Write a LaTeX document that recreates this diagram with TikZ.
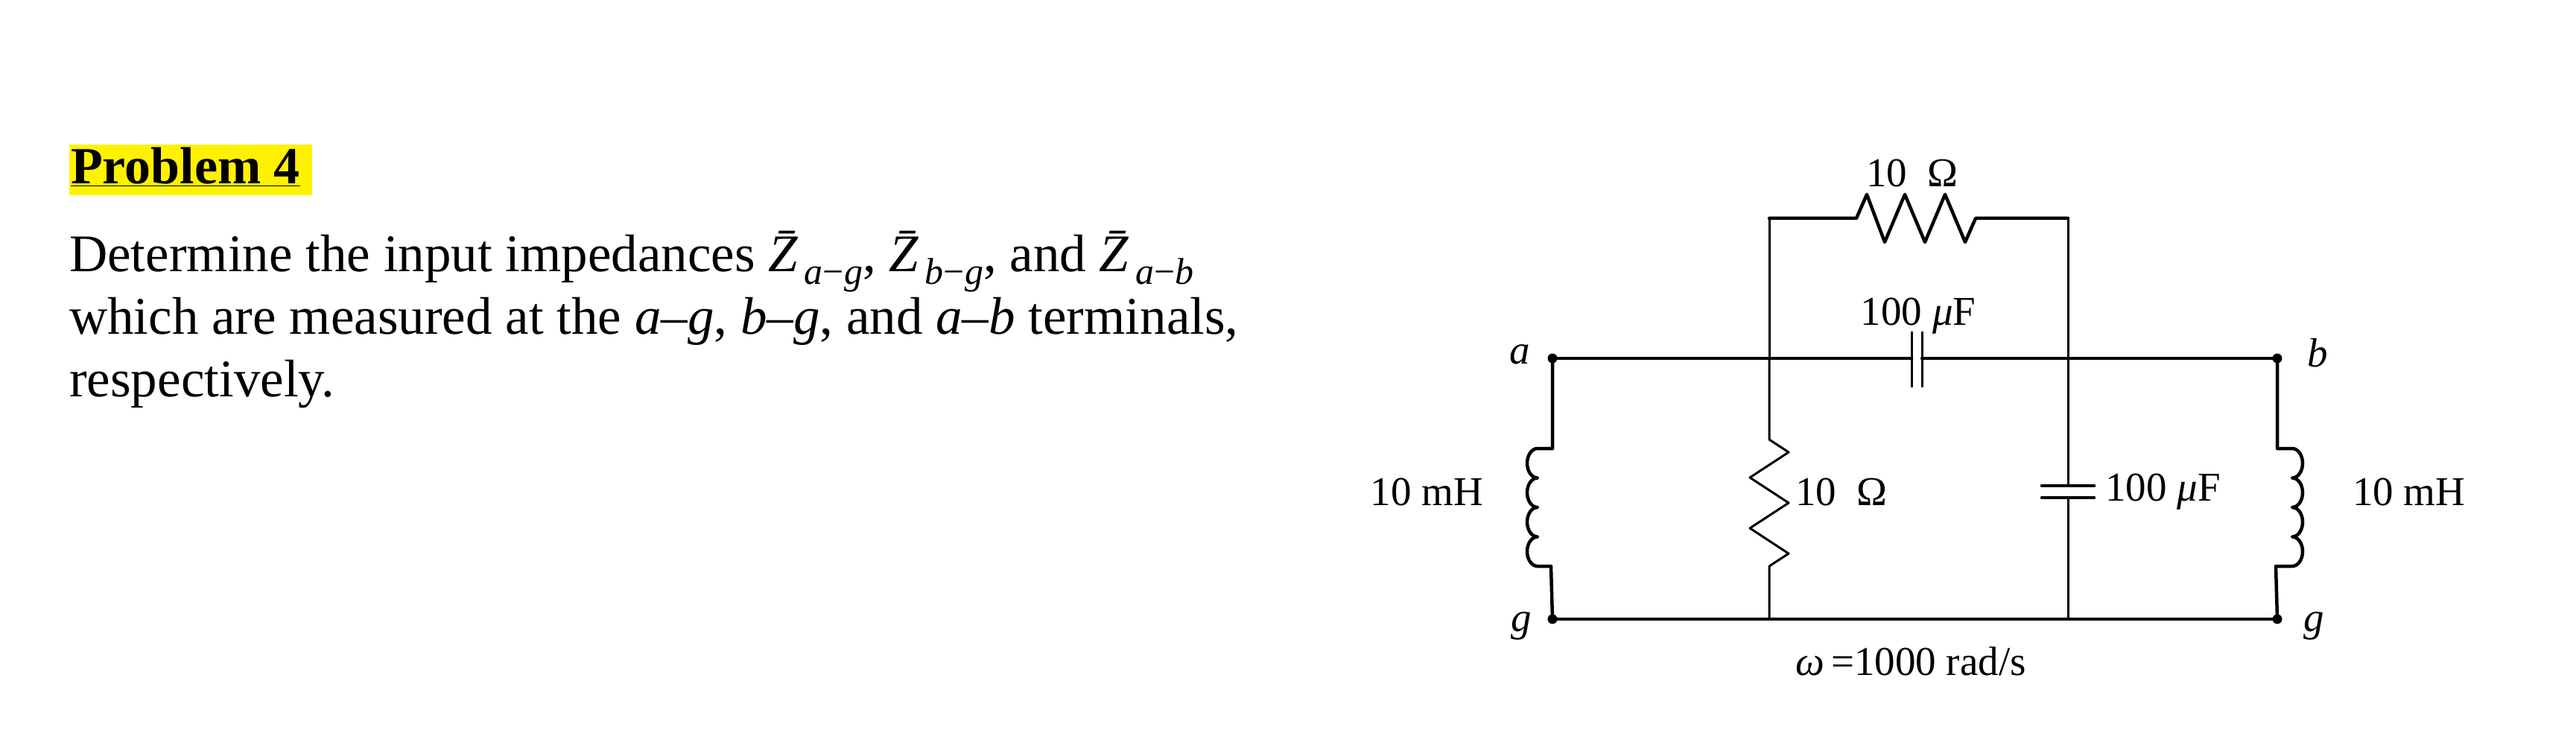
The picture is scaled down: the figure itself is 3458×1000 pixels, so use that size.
\documentclass[tikz,border=0pt]{standalone}
\usepackage{fontspec}
\setmainfont{Liberation Serif}
\begin{document}
\begin{tikzpicture}[x=1pt,y=-1pt,
  wire/.style={line width=4.5pt,line cap=round,line join=round},
  thin/.style={line width=3pt,line join=round},
  lbl/.style={font=\fontsize{55}{60}\selectfont,inner sep=0pt},
  dotc/.style={circle,fill=black,inner sep=0pt,minimum size=13pt}]
\newcommand{\zsub}[2]{\textit{\={Z}}\kern-0.12em\raisebox{-0.25em}{\fontsize{50}{50}\selectfont\textit{#1}−\textit{#2}}}
\useasboundingbox (0,0) rectangle (3458,1000);
% text
\fill[yellow] (93,194) rectangle (419,262);
\node[anchor=base west,inner sep=0pt,font=\fontsize{70}{84}\selectfont\bfseries] (title) at (95,247) {\underline{Problem 4}};
\node[anchor=base west,inner sep=0pt,font=\fontsize{71}{84}\selectfont] (l1) at (93,364) {Determine the input impedances \zsub{a}{g}, \zsub{b}{g}, and \zsub{a}{b}};
\node[anchor=base west,inner sep=0pt,font=\fontsize{71}{84}\selectfont] (l2) at (93,448) {which are measured at the \textit{a}–\textit{g}, \textit{b}–\textit{g}, and \textit{a}–\textit{b} terminals,};
\node[anchor=base west,inner sep=0pt,font=\fontsize{71}{84}\selectfont] (l3) at (93,532) {respectively.};
% coordinates
\coordinate (a) at (2084,481);
\coordinate (b) at (3057,481);
\coordinate (g1) at (2084,831);
\coordinate (g2) at (3057,831);
\coordinate (rt) at (2375,481); \coordinate (rb) at (2375,831);
\coordinate (ct) at (2776,481); \coordinate (cb) at (2776,831);
\coordinate (tl) at (2375,293); \coordinate (tr) at (2776,293);
% top resistor branch
\draw[thin] (rt) -- (tl);
\draw[thin] (ct) -- (tr);
\draw[wire] (tl) -- (2492,293) -- (2506,261) -- (2530,325) -- (2557,261) -- (2584,325) -- (2611,261) -- (2638,325) -- (2652,293) -- (tr);
% middle series capacitor
\draw[wire] (a) -- (2566,481);
\draw[wire] (2580,481) -- (b);
\draw[thin] (2566,445) -- (2566,520);
\draw[thin] (2580,445) -- (2580,520);
% vertical resistor
\draw[thin] (rt) -- (2375,590) -- (2401,607) -- (2349,641) -- (2401,675) -- (2349,709) -- (2401,743) -- (2375,760) -- (rb);
% vertical capacitor
\draw[thin] (ct) -- (2776,652);
\draw[thin] (2776,668) -- (cb);
\draw[wire] (2741,652) -- (2811,652);
\draw[wire] (2741,668) -- (2811,668);
% left inductor
\draw[wire] (a) -- (2084,602) -- (2064,602)
  arc[start angle=270,end angle=90,x radius=14,y radius=19.75]
  arc[start angle=270,end angle=90,x radius=14,y radius=19.75]
  arc[start angle=270,end angle=90,x radius=14,y radius=19.75]
  arc[start angle=270,end angle=90,x radius=14,y radius=19.75]
  -- (2082,760) -- (g1);
% right inductor
\draw[wire] (b) -- (3057,602) -- (3077,602)
  arc[start angle=-90,end angle=90,x radius=14,y radius=19.75]
  arc[start angle=-90,end angle=90,x radius=14,y radius=19.75]
  arc[start angle=-90,end angle=90,x radius=14,y radius=19.75]
  arc[start angle=-90,end angle=90,x radius=14,y radius=19.75]
  -- (3055,760) -- (g2);
% ground wire
\draw[wire] (g1) -- (g2);
% dots
\node[dotc] (da) at (a) {}; \node[dotc] (db) at (b) {};
\node[dotc] (dg1) at (g1) {}; \node[dotc] (dg2) at (g2) {};
% labels
\node[lbl] (la) at (2040,476) {\textit{a}};
\node[lbl] (lb) at (3111,474) {\textit{b}};
\node[lbl] (lg1) at (2042,840) {\textit{g}};
\node[lbl] (lg2) at (3106,840) {\textit{g}};
\node[lbl] (rtop) at (2567,232) {10\ \ Ω};
\node[lbl] (ctop) at (2575,424) {100 \textit{μ}F};
\node[lbl,anchor=west] (rmid) at (2410,660) {10\ \ Ω};
\node[lbl,anchor=west] (cmid) at (2826,660) {100 \textit{μ}F};
\node[lbl,anchor=east] (lL) at (1991,660) {10 mH};
\node[lbl,anchor=west] (lR) at (3158,660) {10 mH};
\node[lbl] (om) at (2565,888) {\textit{ω}\,=1000 rad/s};
\end{tikzpicture}
\end{document}
